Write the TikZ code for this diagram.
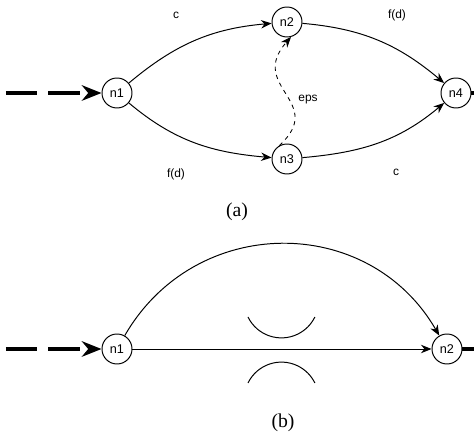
\documentclass[tikz,border=0pt]{standalone}
\usepackage{fontspec}
\setmainfont{Liberation Serif}
\setsansfont{Liberation Sans}
\usepackage{tikz}
\usetikzlibrary{arrows.meta}

\begin{document}
\begin{tikzpicture}[->,>={Stealth[length=7.5pt,width=6pt]},line width=0.7pt,
  vertex/.style={circle,draw,minimum size=0.75cm,inner sep=0pt,font=\sffamily\fontsize{9}{10}\selectfont},
  lbl/.style={font=\sffamily\fontsize{8.5}{10}\selectfont},
  caption/.style={font=\fontsize{14}{16}\selectfont},
  feed/.style={line width=2.8pt,dash pattern=on 0.78cm off 0.28cm,-{Stealth[length=14pt,width=11pt]}},
  stub/.style={-,line width=2.8pt}]
  \clip (0,0) rectangle (11.85,-10.95);

  % (a)
  \node[vertex] (n1) at (2.925,-2.325) {n1};
  \node[vertex] (n2) at (7.175,-0.55) {n2};
  \node[vertex] (n3) at (7.175,-3.975) {n3};
  \node[vertex] (n4) at (11.4,-2.325) {n4};
  \coordinate (ina) at (0.15,-2.325);
  \coordinate (outa) at (12.5,-2.325);

  \draw[feed] (ina) -- (n1);
  \draw[stub] (n4) -- (outa);
  \path
  (n1) edge [out=40,in=185] (n2)
  (n1) edge [out=-40,in=175] (n3)
  (n2) edge [out=-5,in=140] (n4)
  (n3) edge [out=5,in=220] (n4)
  ;
  \draw[dashed,line width=0.6pt] (n3.120) .. controls +(1.2,1.1) and +(-1.1,-1.25) .. (n2.-75);

  \node[lbl] (c1) at (4.4,-0.375) {c};
  \node[lbl] (fd1) at (9.925,-0.375) {f(d)};
  \node[lbl] (fd2) at (4.4,-4.35) {f(d)};
  \node[lbl] (c2) at (9.9,-4.3) {c};
  \node[lbl] (eps) at (7.7,-2.5) {eps};
  \node[caption] (capa) at (5.925,-5.3) {(a)};

  % (b)
  \node[vertex] (m1) at (2.925,-8.725) {n1};
  \node[vertex] (m2) at (11.175,-8.725) {n2};
  \coordinate (inb) at (0.15,-8.725);
  \coordinate (outb) at (12.5,-8.725);

  \draw[feed] (inb) -- (m1);
  \draw[stub] (m2) -- (outb);
  \path
  (m1.60) edge [out=60,in=120,looseness=1.15] (m2.120)
  (m1) edge (m2)
  ;
  \draw[-] (6.2,-7.925) arc[start angle=206,end angle=334,radius=0.93];
  \draw[-] (6.2,-9.575) arc[start angle=154,end angle=26,radius=0.93];

  \node[caption] (capb) at (7.075,-10.575) {(b)};
\end{tikzpicture}
\end{document}
